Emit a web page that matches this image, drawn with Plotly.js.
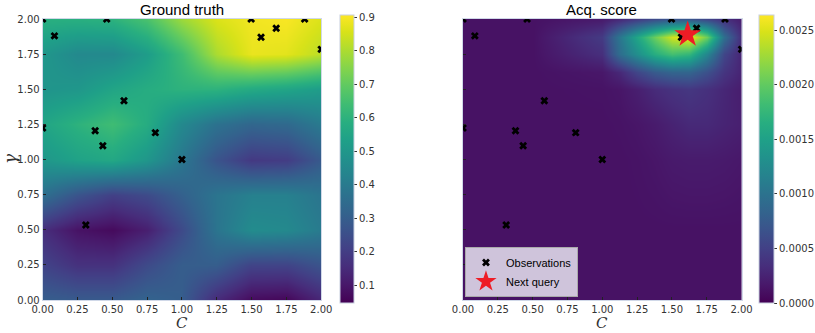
<!DOCTYPE html>
<html>
<head>
<meta charset="utf-8">
<script src="https://cdn.plot.ly/plotly-3.0.1.min.js"></script>
<style>html,body{margin:0;padding:0;background:#fff;}#chart{width:815px;height:333px;}</style>
</head>
<body>
<div id="chart"></div>
<script>
// ---- Data ----
const gridC = [0, 0.25, 0.5, 0.75, 1.0, 1.25, 1.5, 1.75, 2.0];
const gridGamma = [0, 0.25, 0.5, 0.75, 1.0, 1.25, 1.5, 1.75, 2.0];
// ground truth, rows = gamma (bottom to top), cols = C
const groundTruth = [
  [0.30, 0.29, 0.29, 0.32, 0.30, 0.15, 0.07, 0.06, 0.14],
  [0.22, 0.17, 0.17, 0.24, 0.30, 0.30, 0.22, 0.22, 0.27],
  [0.16, 0.09, 0.07, 0.12, 0.24, 0.38, 0.46, 0.45, 0.40],
  [0.36, 0.27, 0.21, 0.24, 0.31, 0.38, 0.42, 0.42, 0.38],
  [0.50, 0.54, 0.56, 0.50, 0.39, 0.27, 0.19, 0.20, 0.29],
  [0.55, 0.60, 0.64, 0.58, 0.45, 0.37, 0.33, 0.34, 0.40],
  [0.49, 0.50, 0.55, 0.58, 0.60, 0.60, 0.57, 0.55, 0.52],
  [0.50, 0.45, 0.45, 0.52, 0.64, 0.80, 0.88, 0.87, 0.82],
  [0.59, 0.59, 0.60, 0.66, 0.78, 0.86, 0.89, 0.90, 0.86]
];
const acqC = [0, 0.5, 1.0, 1.125, 1.25, 1.375, 1.5, 1.625, 1.75, 1.875, 2.0];
const acqGamma = [0, 0.5, 1.0, 1.25, 1.5, 1.625, 1.75, 1.875, 2.0];
const acqScore = [
  [0.00012, 0.00012, 0.00012, 0.00012, 0.00012, 0.00012, 0.00012, 0.00012, 0.00012, 0.00012, 0.00012],
  [0.00012, 0.00012, 0.00012, 0.00012, 0.00012, 0.00012, 0.00012, 0.00012, 0.00012, 0.00012, 0.00012],
  [0.00012, 0.00012, 0.00012, 0.00012, 0.00013, 0.00015, 0.00018, 0.00019, 0.00019, 0.00018, 0.00016],
  [0.00012, 0.00012, 0.00012, 0.00013, 0.00015, 0.00019, 0.00025, 0.00030, 0.00030, 0.00026, 0.00022],
  [0.00012, 0.00012, 0.00013, 0.00015, 0.00022, 0.00032, 0.00038, 0.00042, 0.00036, 0.00028, 0.00020],
  [0.00012, 0.00012, 0.00016, 0.00030, 0.00055, 0.00075, 0.00085, 0.00085, 0.00065, 0.00040, 0.00025],
  [0.00012, 0.00012, 0.00035, 0.00095, 0.00130, 0.00165, 0.00185, 0.00175, 0.00120, 0.00055, 0.00025],
  [0.00012, 0.00012, 0.00045, 0.00105, 0.00155, 0.00205, 0.00245, 0.00262, 0.00205, 0.00095, 0.00030],
  [0.00012, 0.00012, 0.00018, 0.00030, 0.00045, 0.00060, 0.00070, 0.00070, 0.00055, 0.00035, 0.00020]
];
const obsC = [0, 0, 0.085, 0.31, 0.377, 0.432, 0.46, 0.584, 0.809, 1.0, 1.497, 1.568, 1.677, 1.881, 2.0];
const obsGamma = [2.0, 1.224, 1.88, 0.534, 1.205, 1.098, 2.0, 1.418, 1.191, 1.0, 2.0, 1.87, 1.934, 2.0, 1.784];
const nextC = [1.613];
const nextGamma = [1.89];
const axisTicks = [0, 0.25, 0.5, 0.75, 1.0, 1.25, 1.5, 1.75, 2.0];
const gtCbTicks = [0.1, 0.2, 0.3, 0.4, 0.5, 0.6, 0.7, 0.8, 0.9];
const acqCbTicks = [0, 0.0005, 0.001, 0.0015, 0.002, 0.0025];

const W = 815, H = 333;
const px = v => v / W, py = v => 1 - v / H;

const tickFont = {family: 'DejaVu Sans', size: 10, color: '#333'};
const cbCommon = {
  thickness: 14, thicknessmode: 'pixels', len: 288, lenmode: 'pixels',
  y: py(159), yanchor: 'middle', xanchor: 'left', xpad: 0, ypad: 0,
  outlinecolor: '#c8d0e0', outlinewidth: 1, ticks: 'outside', ticklen: 3,
  tickcolor: '#333', tickfont: tickFont
};

const traces = [
  {type: 'heatmap', x: gridC, y: gridGamma, z: groundTruth, colorscale: 'Viridis',
   zmin: 0.048, zmax: 0.906, zsmooth: 'best', xaxis: 'x', yaxis: 'y', hoverinfo: 'skip',
   colorbar: Object.assign({}, cbCommon, {x: px(343), tickvals: gtCbTicks, tickformat: '.1f'})},
  {type: 'heatmap', x: acqC, y: acqGamma, z: acqScore, colorscale: 'Viridis',
   zmin: 0, zmax: 0.00264, zsmooth: 'best', xaxis: 'x2', yaxis: 'y2', hoverinfo: 'skip',
   colorbar: Object.assign({}, cbCommon, {x: px(766), thickness: 15, tickvals: acqCbTicks, tickformat: '.4f'})},
  {type: 'scatter', mode: 'markers', x: obsC, y: obsGamma, xaxis: 'x', yaxis: 'y', showlegend: false,
   marker: {symbol: 'x', size: 7, color: '#000'}},
  {type: 'scatter', mode: 'markers', x: obsC, y: obsGamma, xaxis: 'x2', yaxis: 'y2', name: 'Observations',
   marker: {symbol: 'x', size: 7, color: '#000'}},
  {type: 'scatter', mode: 'markers', x: nextC, y: nextGamma, xaxis: 'x2', yaxis: 'y2', name: 'Next query',
   marker: {symbol: 'star', size: 20, color: '#ee1c25', line: {width: 0}}}
];

const axCommon = {
  range: [0, 2], tickvals: axisTicks, tickformat: '.2f', tickfont: tickFont,
  showgrid: true, gridcolor: 'rgba(255,255,255,0.55)', gridwidth: 0.8, griddash: 'dot',
  zeroline: false, showline: true, mirror: true, linecolor: '#d0d8e8', linewidth: 1,
  ticks: 'inside', ticklen: 3, tickcolor: '#222', automargin: false, fixedrange: true
};

const layout = {
  width: W, height: H,
  margin: {l: 0, r: 0, t: 0, b: 0},
  paper_bgcolor: '#fff', plot_bgcolor: '#fff',
  xaxis: Object.assign({}, axCommon, {domain: [px(43), px(324)], anchor: 'y'}),
  yaxis: Object.assign({}, axCommon, {domain: [py(300), py(19)], anchor: 'x'}),
  xaxis2: Object.assign({}, axCommon, {domain: [px(467), px(748)], anchor: 'y2'}),
  yaxis2: Object.assign({}, axCommon, {domain: [py(300), py(19)], anchor: 'x2', showticklabels: false}),
  legend: {x: px(469), y: py(297), xanchor: 'left', yanchor: 'bottom',
           bgcolor: 'rgba(232,228,240,0.85)', bordercolor: '#aaa', borderwidth: 1,
           font: {family: 'Liberation Sans', size: 11, color: '#000'}, tracegroupgap: 0,
           itemwidth: 30},
  showlegend: true,
  annotations: [
    {text: 'Ground truth', x: px(184), y: py(10), xref: 'paper', yref: 'paper', showarrow: false,
     xanchor: 'center', yanchor: 'middle', font: {family: 'Liberation Sans', size: 15, color: '#000'}},
    {text: 'Acq. score', x: px(607), y: py(10), xref: 'paper', yref: 'paper', showarrow: false,
     xanchor: 'center', yanchor: 'middle', font: {family: 'Liberation Sans', size: 15, color: '#000'}},
    {text: '<i>C</i>', x: px(184), y: 0, xref: 'paper', yref: 'paper', showarrow: false,
     xanchor: 'center', yanchor: 'bottom', borderpad: 0, font: {family: 'DejaVu Serif', size: 15, color: '#333'}},
    {text: '<i>C</i>', x: px(607), y: 0, xref: 'paper', yref: 'paper', showarrow: false,
     xanchor: 'center', yanchor: 'bottom', borderpad: 0, font: {family: 'DejaVu Serif', size: 15, color: '#333'}},
    {text: '<i>γ</i>', x: px(10), y: py(158), xref: 'paper', yref: 'paper', showarrow: false, textangle: -90,
     xanchor: 'center', yanchor: 'middle', font: {family: 'DejaVu Serif', size: 17, color: '#333'}}
  ]
};

Plotly.newPlot('chart', traces, layout, {displayModeBar: false, staticPlot: true});
</script>
</body>
</html>
